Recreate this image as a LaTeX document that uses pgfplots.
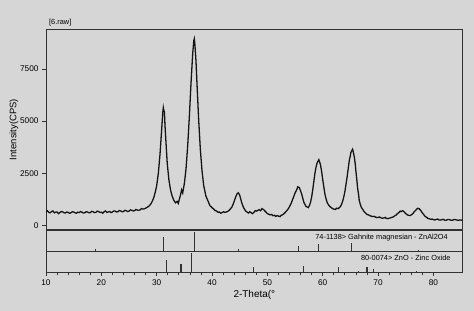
\documentclass[border=0pt]{standalone}
\usepackage{fontspec}
\setmainfont{Liberation Sans}
\usepackage{pgfplots}
\pgfplotsset{compat=1.18}
\definecolor{bg}{RGB}{214,214,214}
\definecolor{fr}{RGB}{50,50,50}
\definecolor{ln}{RGB}{20,20,20}

\begin{document}
\begin{tikzpicture}
\fill[bg] (0bp,0bp) rectangle (474bp,311bp);
\path[use as bounding box] (0bp,0bp) rectangle (474bp,311bp);

\pgfplotsset{
  every axis/.append style={
    scale only axis, width=416.7bp, xmin=10, xmax=85.3,
    axis line style={fr, line width=0.8pt},
    /pgf/number format/assume math mode=true,
    /pgf/number format/set thousands separator={},
    tick style={fr, line width=0.7pt},
    tick align=outside,
    major tick length=4bp, minor tick length=3bp,
    tick label style={font=\fontsize{8.3}{9}\selectfont},
  }
}

% main panel
\begin{axis}[
  at={(46bp,81bp)}, anchor=south west, height=201bp,
  ymin=-225, ymax=9419,
  xtick=\empty,
  ytick={0,2500,5000,7500}, ytick pos=left,
  ylabel={Intensity(CPS)},
  ylabel style={font=\fontsize{9.5}{10}\selectfont, yshift=-5bp},
]
\addplot[ln, line width=1.3pt] coordinates {
(10,650)(10.25,700)(10.5,620)(10.75,600)(11,660)(11.25,690)(11.5,600)(11.75,630)(12,640)(12.25,560)(12.5,610)(12.75,660)(13,650)(13.25,600)(13.5,590)(13.75,640)(14,620)(14.25,580)(14.5,600)(14.75,650)(15,640)(15.25,600)(15.5,580)(15.75,630)(16,610)(16.25,660)(16.5,630)(16.75,590)(17,600)(17.25,650)(17.5,640)(17.75,600)(18,610)(18.25,670)(18.5,650)(18.75,610)(19,620)(19.25,680)(19.5,660)(19.75,620)(20,630)(20.25,580)(20.5,650)(20.75,690)(21,620)(21.25,640)(21.5,660)(21.75,610)(22,640)(22.25,690)(22.5,680)(22.75,640)(23,650)(23.25,710)(23.5,690)(23.75,650)(24,660)(24.25,720)(24.5,700)(24.75,660)(25,680)(25.25,740)(25.5,720)(25.75,690)(26,700)(26.25,760)(26.5,730)(26.75,720)(27,740)(27.25,800)(27.5,780)(27.75,790)(28,820)(28.25,860)(28.5,900)(28.75,960)(29,1050)(29.25,1180)(29.5,1350)(29.75,1600)(30,1900)(30.3,2500)(30.6,3400)(30.9,4600)(31.1,5400)(31.2,5650)(31.3,5500)(31.4,5450)(31.5,4800)(31.7,3900)(31.9,3000)(32.2,2200)(32.5,1700)(32.8,1400)(33.1,1200)(33.4,1080)(33.7,1150)(33.9,1050)(34.1,1250)(34.3,1450)(34.5,1700)(34.7,1550)(35.0,2000)(35.3,2700)(35.6,3800)(35.9,5200)(36.2,6800)(36.5,8200)(36.7,8850)(36.8,8950)(36.9,8700)(37.1,7900)(37.3,6700)(37.6,5000)(37.9,3600)(38.2,2600)(38.5,1900)(38.9,1400)(39.3,1150)(39.6,950)(39.8,900)(40.1,820)(40.3,780)(40.6,700)(40.8,690)(41.1,620)(41.3,640)(41.6,580)(41.8,610)(42.1,650)(42.3,620)(42.6,640)(42.8,660)(43.1,720)(43.3,780)(43.6,880)(43.8,1000)(44.0,1150)(44.2,1300)(44.5,1500)(44.75,1560)(45.0,1450)(45.3,1150)(45.5,980)(45.7,850)(45.9,760)(46.1,680)(46.4,620)(46.6,590)(46.8,650)(47.0,620)(47.3,560)(47.5,600)(47.8,700)(48.0,680)(48.3,720)(48.5,750)(48.8,700)(49.0,800)(49.3,760)(49.5,700)(49.8,620)(50.0,560)(50.3,530)(50.5,500)(50.8,520)(51.0,460)(51.3,480)(51.5,430)(51.8,470)(52.0,440)(52.3,420)(52.5,480)(52.8,510)(53.0,560)(53.3,640)(53.5,700)(53.8,800)(54.0,900)(54.3,1050)(54.5,1200)(54.8,1400)(55.0,1550)(55.3,1700)(55.5,1850)(55.8,1800)(56.0,1650)(56.2,1500)(56.4,1300)(56.6,1100)(56.8,1000)(57.0,900)(57.2,880)(57.4,850)(57.6,950)(57.8,1100)(58.0,1350)(58.2,1700)(58.4,2100)(58.6,2500)(58.8,2800)(59.0,3000)(59.2,3100)(59.3,3150)(59.4,3080)(59.6,2900)(59.8,2600)(60.0,2200)(60.2,1850)(60.4,1500)(60.6,1280)(60.8,1100)(61.0,1000)(61.3,900)(61.5,860)(61.8,800)(62.0,780)(62.3,760)(62.5,820)(62.8,800)(63.0,850)(63.2,900)(63.4,1000)(63.6,1150)(63.8,1350)(64.0,1600)(64.2,1950)(64.4,2300)(64.6,2700)(64.8,3100)(65.0,3350)(65.1,3500)(65.3,3600)(65.4,3650)(65.5,3550)(65.7,3300)(65.9,2900)(66.0,2600)(66.2,2100)(66.3,1800)(66.5,1450)(66.6,1200)(66.8,1000)(67.0,850)(67.2,780)(67.5,650)(67.7,600)(68.0,520)(68.3,500)(68.5,460)(68.8,440)(69.0,420)(69.3,430)(69.5,400)(69.8,370)(70.0,380)(70.3,400)(70.5,360)(70.8,340)(71.0,350)(71.3,380)(71.5,330)(71.8,320)(72.0,340)(72.3,360)(72.5,380)(72.8,410)(73.0,450)(73.3,500)(73.5,560)(73.8,620)(74.0,680)(74.2,660)(74.4,700)(74.6,680)(74.8,620)(75.0,560)(75.3,500)(75.5,480)(75.8,470)(76.0,500)(76.3,560)(76.5,640)(76.8,720)(77.0,780)(77.2,820)(77.4,800)(77.6,750)(77.8,680)(78.0,600)(78.3,500)(78.5,430)(78.8,380)(79.0,330)(79.3,310)(79.5,290)(79.8,300)(80.0,270)(80.3,260)(80.5,280)(80.8,300)(81,260)(81.3,250)(81.5,270)(81.8,290)(82,250)(82.3,240)(82.5,270)(82.8,280)(83,260)(83.3,240)(83.5,250)(83.8,280)(84,270)(84.3,250)(84.5,240)(84.8,260)(85,250)(85.3,240)
};
\draw[fr, line width=2pt] (rel axis cs:0,0) -- (rel axis cs:1,0);
\end{axis}

\node[font=\fontsize{7.4}{8}\selectfont, anchor=south west, inner sep=0pt] at (49bp,284.5bp) {[6.raw]};

% Gahnite panel
\begin{axis}[
  at={(46bp,59.3bp)}, anchor=south west, height=21.7bp,
  ymin=0, ymax=108.5,
  xtick=\empty, ytick=\empty,
]
\addplot[ycomb, fr, line width=1.1pt, mark=none] coordinates {
(18.9,15)(31.2,73)(36.8,100)(38.4,3)(44.8,14)(49.0,4)(55.6,30)(59.3,40)(65.2,44)(68.5,4)(69.6,3)(74.2,5)(77.3,6)(82.4,3)
};
\draw[fr, line width=2pt] (rel axis cs:0,0) -- (rel axis cs:1,0);
\node[font=\fontsize{7.4}{8}\selectfont, anchor=east, inner sep=0pt] at (axis cs:82.65,72) {74-1138> Gahnite magnesian - ZnAl2O4};
\end{axis}

% ZnO panel
\begin{axis}[
  at={(46bp,39bp)}, anchor=south west, height=20.3bp,
  ymin=0, ymax=108.6,
  xtick={10,20,...,80}, minor x tick num=4, xtick pos=left,
  ytick=\empty,
  xlabel={2-Theta(°},
  xlabel style={font=\fontsize{10}{11}\selectfont, yshift=2bp},
]
\addplot[ycomb, fr, line width=1.1pt, mark=none] coordinates {
(31.7,64)(34.4,43)(36.3,100)(47.5,28)(56.6,34)(62.9,28)(66.4,5)(68.0,25)(69.1,14)(72.6,2)(77.0,3)
};
\node[font=\fontsize{7.4}{8}\selectfont, anchor=east, inner sep=0pt] at (axis cs:83.14,73) {80-0074> ZnO - Zinc Oxide};
\end{axis}
\end{tikzpicture}
\end{document}
